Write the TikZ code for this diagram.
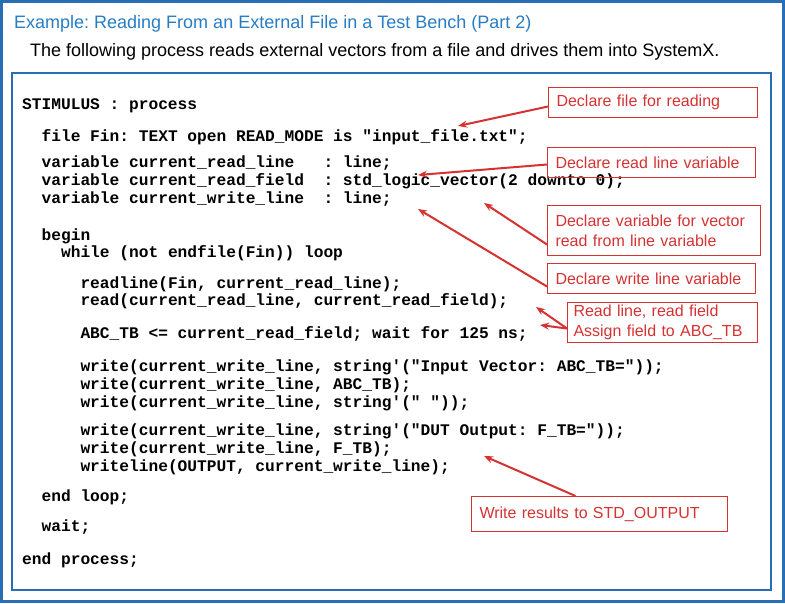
\documentclass[tikz,border=0pt]{standalone}
\usepackage{fontspec}
\setmainfont{Liberation Sans}
\newfontfamily\codefont{Liberation Mono}
\usetikzlibrary{arrows.meta}
\frenchspacing
\definecolor{frameblue}{RGB}{40,110,180}
\definecolor{titleblue}{RGB}{40,125,195}
\definecolor{noteRed}{RGB}{215,50,50}
\tikzset{
  code/.style={anchor=base west,inner sep=0pt,font=\codefont\bfseries\fontsize{16.2}{18}\selectfont},
  note/.style={draw=noteRed,line width=1pt,text=noteRed,align=left,anchor=north west,inner sep=0pt,font=\fontsize{16}{20}\selectfont},
  pointer/.style={noteRed,line width=2pt,-{Stealth[length=9pt,width=7pt]}}
}
\begin{document}
\begin{tikzpicture}[x=1pt,y=-1pt]
	\useasboundingbox (0,0) rectangle (785,603);
	\fill[white] (0,0) rectangle (785,603);
	\draw[frameblue,line width=3pt] (1.5,1.5) rectangle (783.5,601.5);
	\draw[frameblue,line width=1.5pt] (12,73) rectangle (771,590);
	\node[anchor=base west,inner sep=0pt,text=titleblue,font=\fontsize{18}{21}\selectfont] (title) at (14,28) {Example: Reading From an External File in a Test Bench (Part 2)};
	\node[anchor=base west,inner sep=0pt,font=\fontsize{18}{21}\selectfont] (sub) at (30,56) {The following process reads external vectors from a file and drives them into SystemX.};
	% code lines
	\def\cw{9.72}
	\foreach \i/\ind/\y/\txt in {
		a/0/109/{STIMULUS : process},
		b/2/141/{file Fin: TEXT open READ\_MODE is "input\_file.txt";},
		c/2/167/{variable current\_read\_line\ \ \ : line;},
		d/2/185/{variable current\_read\_field\ \ : std\_logic\_vector(2 downto 0);},
		e/2/203/{variable current\_write\_line\ \ : line;},
		f/2/240/{begin},
		g/4/257/{while (not endfile(Fin)) loop},
		h/6/288/{readline(Fin, current\_read\_line);},
		i/6/305/{read(current\_read\_line, current\_read\_field);},
		j/6/338/{ABC\_TB <= current\_read\_field; wait for 125 ns;},
		k/6/371/{write(current\_write\_line, string'("Input Vector: ABC\_TB="));},
		l/6/389/{write(current\_write\_line, ABC\_TB);},
		m/6/407/{write(current\_write\_line, string'(" "));},
		n/6/435/{write(current\_write\_line, string'("DUT Output: F\_TB="));},
		o/6/453/{write(current\_write\_line, F\_TB);},
		p/6/471/{writeline(OUTPUT, current\_write\_line);},
		q/2/501/{end loop;},
		r/2/531/{wait;},
		s/0/564/{end process;}} {
		\node[code] (line-\i) at (22+\ind*\cw,\y) {\txt};
	}
	% callouts
	\node[note,minimum width=209pt,minimum height=30pt,text width=193pt,inner xsep=8pt] (n1) at (548,87) {Declare file for reading};
	\node[note,minimum width=208pt,minimum height=30pt,text width=192pt,inner xsep=8pt] (n2) at (547,147) {Declare read line variable};
	\node[note,minimum width=213pt,minimum height=50pt,text width=197pt,inner xsep=8pt] (n3) at (547,205) {Declare variable for vector\\read from line variable};
	\node[note,minimum width=208pt,minimum height=30pt,text width=192pt,inner xsep=8pt] (n4) at (547,263) {Declare write line variable};
	\node[note,minimum width=190pt,minimum height=40pt,text width=178pt,inner xsep=6pt] (n5) at (567,302) {Read line, read field\\Assign field to ABC\_TB};
	\node[note,minimum width=256pt,minimum height=35pt,text width=240pt,inner xsep=8pt] (n6) at (471,496) {Write results to STD\_OUTPUT};
	\coordinate (t1) at (458,126);
	\coordinate (t2) at (418,175);
	\coordinate (t3) at (484,203);
	\coordinate (t4) at (418,209);
	\coordinate (t5) at (536,307);
	\coordinate (t6) at (540,325);
	\coordinate (t7) at (484,456);
	\draw[pointer] ([yshift=-4pt]n1.west) -- (t1);
	\draw[pointer] ([yshift=-2pt]n2.west) -- (t2);
	\draw[pointer] ([yshift=-14pt]n3.west) -- (t3);
	\draw[pointer] ([yshift=-8pt]n4.west) -- (t4);
	\draw[pointer] ([yshift=-6pt]n5.west) -- (t5);
	\draw[pointer] ([yshift=-6pt]n5.west) -- (t6);
	\draw[pointer] ([xshift=-24pt]n6.north) -- (t7);
\end{tikzpicture}
\end{document}
